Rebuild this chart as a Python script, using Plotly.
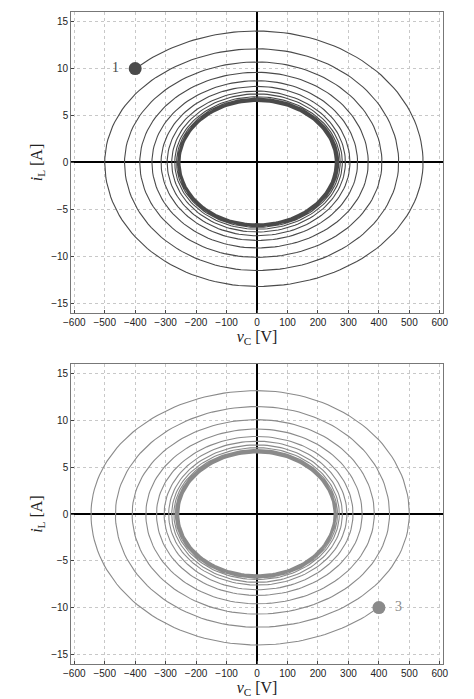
import numpy as np
import plotly.graph_objects as go

# Readings of the trajectory from the picture, loop by loop (outer -> inner)
# top peaks (iL at vC=0), right crossings (vC at iL=0), bottom peaks, left crossings
top_peaks = [14.0, 12.1, 10.7, 9.6, 8.7, 8.1, 7.6, 7.3, 7.0, 6.85, 6.75, 6.68, 6.62, 6.58, 6.55, 6.53, 6.52, 6.51, 6.5, 6.5]
right_cross = [545, 465, 410, 365, 330, 305, 290, 280, 273, 268, 265, 263, 261, 260, 259, 258, 258, 257, 257, 257]
bottom_peaks = [-13.2, -11.5, -10.1, -9.1, -8.3, -7.8, -7.4, -7.1, -6.9, -6.8, -6.72, -6.66, -6.62, -6.6, -6.58, -6.56, -6.55, -6.55, -6.54, -6.54]
left_cross = [-500, -435, -385, -345, -315, -295, -280, -270, -264, -260, -258, -256, -255, -254, -254, -253, -253, -253, -253, -253]
start_point = (-400, 10)
start_left = -570  # virtual left crossing of the first arc


def spiral(sign):
    xs, ys = [], []
    t0 = np.arccos(start_point[0] / start_left)
    t = np.linspace(t0, np.pi / 2, 30)
    xs += list(start_left * np.cos(t)); ys += list(top_peaks[0] * np.sin(t))
    q = np.linspace(0, np.pi / 2, 40)
    for k in range(len(top_peaks)):
        xs += list(right_cross[k] * np.sin(q)); ys += list(top_peaks[k] * np.cos(q))
        xs += list(right_cross[k] * np.cos(q)); ys += list(bottom_peaks[k] * np.sin(q))
        xs += list(left_cross[k] * np.sin(q)); ys += list(bottom_peaks[k] * np.cos(q))
        nt = top_peaks[k + 1] if k + 1 < len(top_peaks) else top_peaks[k]
        xs += list(left_cross[k] * np.cos(q)); ys += list(nt * np.sin(q))
    return [sign * v for v in xs], [sign * v for v in ys]


fig = go.Figure()
panels = [("x", "y", 1, "#4a4a4a", "1  ", "left"), ("x2", "y2", -1, "#8a8a8a", "  3", "right")]
for xa, ya, sign, col, lab, side in panels:
    xs, ys = spiral(sign)
    fig.add_trace(go.Scatter(x=xs, y=ys, xaxis=xa, yaxis=ya, mode="lines",
                             line=dict(color=col, width=1.1), showlegend=False))
    fig.add_trace(go.Scatter(x=[sign * start_point[0]], y=[sign * start_point[1]], xaxis=xa, yaxis=ya,
                             mode="markers+text", text=[lab], textposition="middle " + side,
                             textfont=dict(family="Liberation Serif", size=14, color=col),
                             marker=dict(size=13, color=col), showlegend=False))

ax = dict(range=[-610, 610], dtick=100, showgrid=True, gridcolor="#c8c8c8", griddash="dot",
          zeroline=True, zerolinecolor="black", zerolinewidth=1.5, showline=True, mirror=True,
          linecolor="#777", ticks="inside", ticklen=3, tickfont=dict(size=10, color="#222"),
          title=dict(text="<i>v</i><sub>C</sub> [V]", standoff=2,
                     font=dict(family="Liberation Serif", size=16, color="#222")))
ay = dict(range=[-16, 16], dtick=5, showgrid=True, gridcolor="#c8c8c8", griddash="dot",
          zeroline=True, zerolinecolor="black", zerolinewidth=1.5, showline=True, mirror=True,
          linecolor="#777", ticks="inside", ticklen=3, tickfont=dict(size=10, color="#222"),
          title=dict(text="<i>i</i><sub>L</sub> [A]", standoff=4,
                     font=dict(family="Liberation Serif", size=16, color="#222")))

fig.update_layout(
    width=474, height=699, margin=dict(l=0, r=0, t=0, b=0),
    plot_bgcolor="white", paper_bgcolor="white", font=dict(family="Liberation Sans"),
    xaxis=dict(ax, domain=[0.12, 0.928], anchor="y"),
    yaxis=dict(ay, domain=[0.564, 0.994], anchor="x"),
    xaxis2=dict(ax, domain=[0.12, 0.928], anchor="y2"),
    yaxis2=dict(ay, domain=[0.062, 0.49], anchor="x2"),
)
fig.write_html("out.html")
